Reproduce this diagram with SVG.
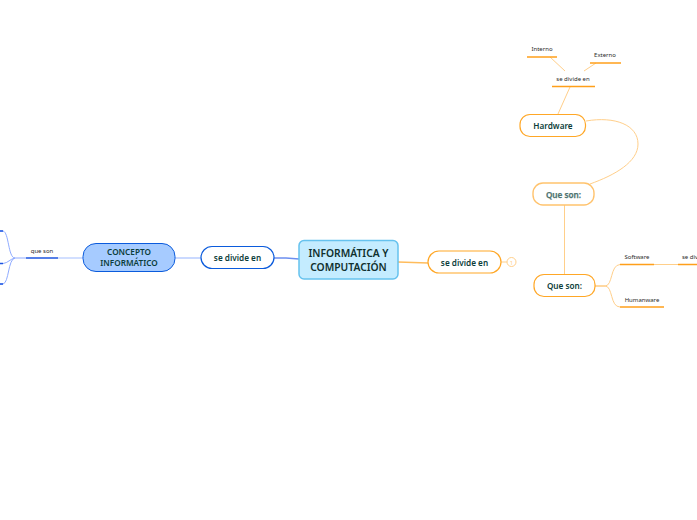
<svg xmlns="http://www.w3.org/2000/svg" width="697" height="520" viewBox="0 0 697 520">
<style>
text{font-family:"Noto Sans","DejaVu Sans",sans-serif;text-anchor:middle}
.b{font-weight:600;font-size:8.200px;fill:#0b3d3a}
.s{font-size:6px;fill:#2a2a2a}
.c{fill:none;stroke:#ffcf8a;stroke-width:1}
.cb{fill:none;stroke:#8fabff;stroke-width:1}
.u{stroke:#ff9f1a;stroke-width:1.500;fill:none}
.ub{stroke:#1c55e0;stroke-width:1.500;fill:none}
.po{fill:#fff;stroke:#ffa726;stroke-width:1.200}
.pb{fill:#fff;stroke:#0b5bdc;stroke-width:1.200}
</style>
<rect width="697" height="520" fill="#fff"/>
<g id="connectors">
<path d="M58 258H83" fill="none" stroke="#c3d4ff" stroke-width="1.500"/>
<path d="M175 258H201" fill="none" stroke="#b9ccff" stroke-width="1.500"/>
<path d="M274 258H286L299 259" fill="none" stroke="#6c8ff0" stroke-width="1.400"/>
<path d="M398 262L428 263" fill="none" stroke="#ffbc5c" stroke-width="1.400"/>
<path class="c" d="M501 262H507" stroke-width="1.200"/>
<path class="cb" d="M26 258H15C8 258 9 232 3 231H0"/>
<path class="cb" d="M15 258C10 259 8 263 3 263.500H0"/>
<path class="cb" d="M15 258C8 259 9 283 3 284H0"/>
<path class="c" d="M550 57L565 71"/>
<path class="c" d="M584 71L596 63"/>
<path class="c" d="M570 87L558 114"/>
<path class="c" d="M586 121C615 116 638 125 638 144C638 162 615 175 590 184"/>
<path class="c" d="M564.500 205V275"/>
<path d="M595 286H605" fill="none" stroke="#ffcf8a" stroke-width="1.600"/>
<path class="c" d="M605 286C613 286 610 265 620 264.500"/>
<path class="c" d="M605 286C613 286 610 307 620 307"/>
<path class="c" d="M654 264.500H678"/>
</g>
<g id="n-root"><rect x="299" y="240.500" width="99" height="38.500" rx="5" fill="#c4ecff" stroke="#66c2ee" stroke-width="1.500"/><text class="b" x="348.500" y="257" style="font-size:10.300px;fill:#10302e">INFORMÁTICA Y</text><text class="b" x="348.500" y="271" style="font-size:10.300px;fill:#10302e">COMPUTACIÓN</text></g>
<g id="n-concepto"><rect x="83" y="243.500" width="92" height="28" rx="13" fill="#a6cbff" stroke="#0b5bdc" stroke-width="1"/><text class="b" x="129" y="255">CONCEPTO</text><text class="b" x="129" y="266">INFORMÁTICO</text></g>
<g id="n-divide-left"><rect class="pb" x="201" y="246.500" width="73" height="22" rx="11"/><text class="b" x="237.500" y="261">se divide en</text></g>
<g id="n-divide-right"><rect class="po" x="428" y="251" width="73" height="22" rx="11"/><text class="b" x="464.500" y="265.500">se divide en</text></g>
<g id="n-badge"><circle cx="511.500" cy="262" r="4.500" fill="#fff" stroke="#ffcf8a" stroke-width="1"/><text x="511.500" y="264.500" style="font-size:6px;fill:#ffcf8a">1</text></g>
<g id="n-hardware"><rect class="po" x="520" y="114.500" width="65.500" height="22" rx="10"/><text class="b" x="553" y="129">Hardware</text></g>
<g id="n-queson1"><rect x="533" y="183" width="61" height="22" rx="10" fill="#fff" stroke="#ffc36e" stroke-width="1.400"/><text class="b" x="563.500" y="197.500" style="fill:#4d7370;stroke:#4d7370;stroke-width:.25px">Que son:</text></g>
<g id="n-queson2"><rect class="po" x="534" y="274.500" width="61" height="22" rx="10"/><text class="b" x="564.500" y="289">Que son:</text></g>
<g id="n-queson-left"><text class="s" x="42" y="253">que son</text><path class="ub" d="M26 258H58"/></g>
<g id="n-left1"><path class="ub" d="M-1 231H3"/></g>
<g id="n-left2"><path class="ub" d="M-1 263.500H3"/></g>
<g id="n-left3"><path class="ub" d="M-1 284H3"/></g>
<g id="n-interno"><text class="s" x="542" y="51">Interno</text><path class="u" d="M527 57H557"/></g>
<g id="n-externo"><text class="s" x="605" y="57">Externo</text><path class="u" d="M590 63H621"/></g>
<g id="n-divide-top"><text class="s" x="573" y="81">se divide en</text><path class="u" d="M552 86.500H595"/></g>
<g id="n-software"><text class="s" x="637" y="259">Software</text><path class="u" d="M620 264.500H654"/></g>
<g id="n-divide-cut"><text class="s" x="682" y="259" style="text-anchor:start">se divide en</text><path class="u" d="M678 264.500H697"/></g>
<g id="n-humanware"><text class="s" x="642" y="302">Humanware</text><path class="u" d="M620 307H664"/></g>
</svg>
